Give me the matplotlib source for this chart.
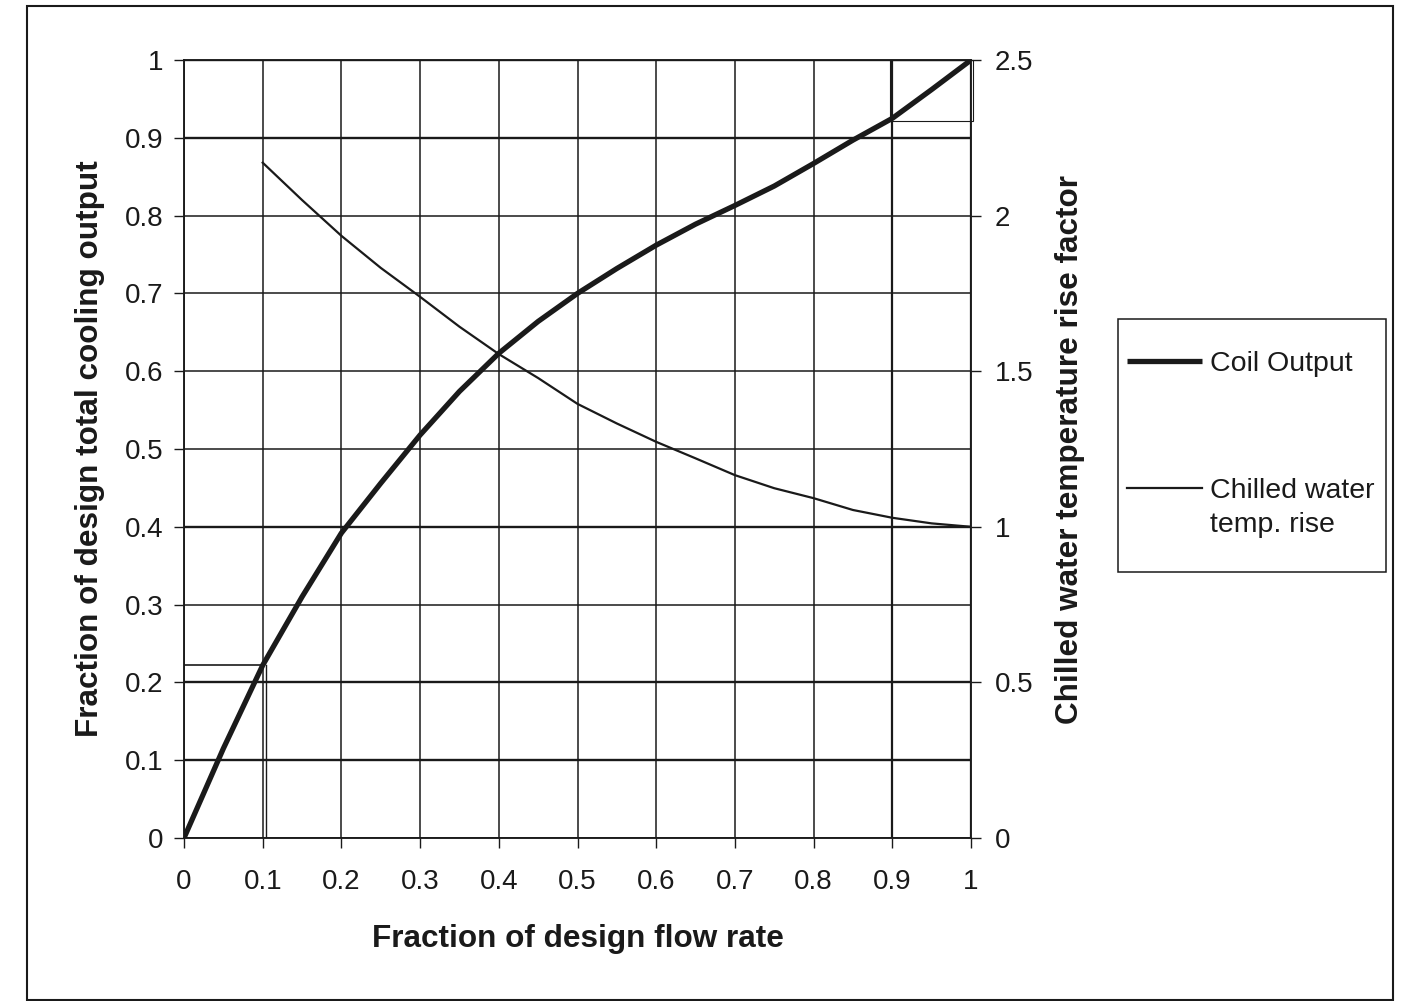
import matplotlib
matplotlib.use("Agg")
import matplotlib.pyplot as plt
from matplotlib.patches import Rectangle
from matplotlib.legend_handler import HandlerLine2D

plt.rcParams['font.family'] = ['Liberation Sans', 'DejaVu Sans']

# ---- data ----
flow = [0.0, 0.05, 0.1, 0.15, 0.2, 0.25, 0.3, 0.35, 0.4, 0.45, 0.5,
        0.55, 0.6, 0.65, 0.7, 0.75, 0.8, 0.85, 0.9, 0.95, 1.0]
coil_output = [0.0, 0.115, 0.222, 0.31, 0.392, 0.456, 0.518, 0.574, 0.623, 0.664, 0.700,
               0.732, 0.762, 0.789, 0.813, 0.838, 0.867, 0.897, 0.925, 0.962, 1.0]
flow_cw = [0.1, 0.15, 0.2, 0.25, 0.3, 0.35, 0.4, 0.45, 0.5,
           0.55, 0.6, 0.65, 0.7, 0.75, 0.8, 0.85, 0.9, 0.95, 1.0]
cw_rise = [2.17, 2.05, 1.935, 1.832, 1.739, 1.643, 1.555, 1.478, 1.395,
           1.332, 1.273, 1.220, 1.166, 1.124, 1.092, 1.054, 1.029, 1.011, 1.0]
x_ticks = [0, 0.1, 0.2, 0.3, 0.4, 0.5, 0.6, 0.7, 0.8, 0.9, 1]
x_tick_labels = ['0', '0.1', '0.2', '0.3', '0.4', '0.5', '0.6', '0.7', '0.8', '0.9', '1']
y_ticks = [0, 0.1, 0.2, 0.3, 0.4, 0.5, 0.6, 0.7, 0.8, 0.9, 1]
y_tick_labels = ['0', '0.1', '0.2', '0.3', '0.4', '0.5', '0.6', '0.7', '0.8', '0.9', '1']
y2_ticks = [0, 0.5, 1, 1.5, 2, 2.5]
y2_tick_labels = ['0', '0.5', '1', '1.5', '2', '2.5']
legend_labels = ['Coil Output', 'Chilled water\ntemp. rise']
# annotation markers (data coords)
mark_flow = 0.1
mark_output = 0.222
box_x = (0.897, 1.0025)
box_y = (0.9216, 1.0)

INK = '#1a1a1a'
FS_TICK = 20
FS_LABEL = 22.7
FS_LEG = 20.5

W, H = 1409, 1001
fig = plt.figure(figsize=(W / 100, H / 100), dpi=100)
ax = fig.add_axes([184 / W, 1 - 838 / H, (971 - 184) / W, (838 - 60) / H])
ax2 = ax.twinx()

ax.set_xlim(0, 1)
ax.set_ylim(0, 1)
ax2.set_ylim(0, 2.5)

# grid
for yv in y_ticks:
    lw = 1.7 if yv in (0.1, 0.2, 0.4, 0.9, 1) else 1.1
    ax.axhline(yv, color=INK, lw=lw, zorder=1)
for xv in x_ticks:
    lw = 1.6 if xv in (0.9, 1) else 1.1
    ax.axvline(xv, color=INK, lw=lw, zorder=1)

# annotation lines
ax.plot([0, mark_flow], [mark_output, mark_output], color=INK, lw=1.2, zorder=2)
ax.plot([mark_flow + 0.0045, mark_flow + 0.0045], [0, mark_output], color=INK, lw=1.0, zorder=2)
ax.add_patch(Rectangle((box_x[0], box_y[0]), box_x[1] - box_x[0], box_y[1] - box_y[0],
                       fill=False, ec=INK, lw=0.8, zorder=2, clip_on=False))

l1, = ax.plot(flow, coil_output, color=INK, lw=3.8, zorder=4, solid_capstyle='butt')
l2, = ax2.plot(flow_cw, cw_rise, color=INK, lw=1.6, zorder=4)

ax.set_xticks(x_ticks)
ax.set_xticklabels(x_tick_labels)
ax.set_yticks(y_ticks)
ax.set_yticklabels(y_tick_labels)
ax2.set_yticks(y2_ticks)
ax2.set_yticklabels(y2_tick_labels)

ax.tick_params(axis='x', direction='out', length=7, width=1, pad=15, labelsize=FS_TICK, colors=INK)
ax.tick_params(axis='y', direction='out', length=7, width=1, pad=8, labelsize=FS_TICK, colors=INK)
ax2.tick_params(axis='y', direction='out', length=7, width=1, pad=10, labelsize=FS_TICK, colors=INK)

for a in (ax, ax2):
    for s in a.spines.values():
        s.set_color(INK)
        s.set_linewidth(1.1)

ax.set_xlabel('Fraction of design flow rate', fontsize=FS_LABEL, fontweight='bold', labelpad=21, color=INK)
ax.set_ylabel('Fraction of design total cooling output', fontsize=FS_LABEL, fontweight='bold', labelpad=14, color=INK)
ax2.set_ylabel('Chilled water temperature rise factor', fontsize=FS_LABEL, fontweight='bold', labelpad=16, color=INK)


class HandlerTopLine(HandlerLine2D):
    """Line handle aligned with the first line of a two-line label."""
    def __init__(self, shift, **kw):
        super().__init__(**kw)
        self.shift = shift

    def create_artists(self, legend, orig_handle, xdescent, ydescent, width, height, fontsize, trans):
        arts = super().create_artists(legend, orig_handle, xdescent, ydescent, width, height, fontsize, trans)
        for a in arts:
            a.set_ydata([y + self.shift for y in a.get_ydata()])
        return arts


leg = fig.legend(handles=[l1, l2], labels=legend_labels,
                 loc='upper left', bbox_to_anchor=(1127 / W, 1 - 351 / H), borderaxespad=0,
                 fontsize=FS_LEG, frameon=False, borderpad=0,
                 handlelength=2.65, handletextpad=0.25, labelspacing=3.54,
                 handler_map={l2: HandlerTopLine(shift=FS_LEG * 0.7)})
for t in leg.get_texts():
    t.set_color(INK)
    t.set_linespacing(1.4)

# legend frame
fig.patches.append(Rectangle((1118 / W, 1 - 572 / H), (1386 - 1118) / W, (572 - 319) / H,
                             transform=fig.transFigure, fill=False, ec=INK, lw=1.1))
# outer frame
fig.patches.append(Rectangle((27 / W, 1 - 1000 / H), (1393 - 27) / W, (1000 - 6) / H,
                             transform=fig.transFigure, fill=False, ec=INK, lw=1.5))

fig.savefig('out.png', dpi=100)
